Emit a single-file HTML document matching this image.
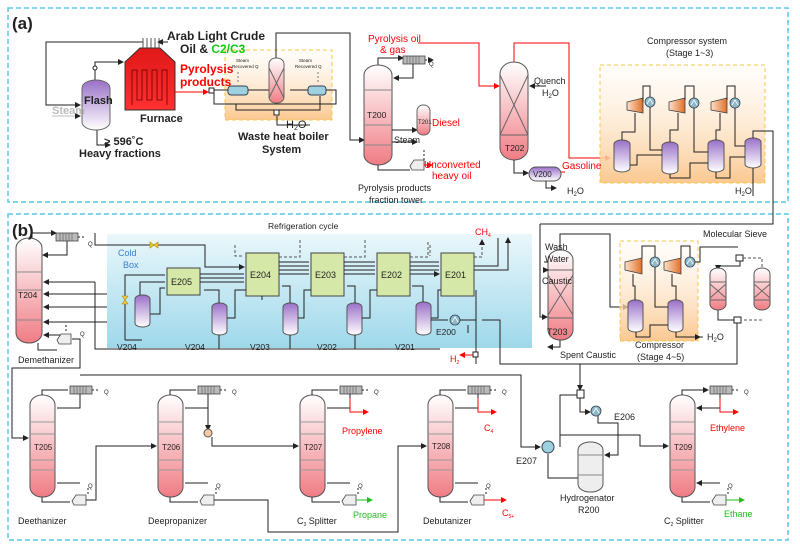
<!DOCTYPE html>
<html><head><meta charset="utf-8"><style>
html,body{margin:0;padding:0;background:#fff}
svg{display:block}
text{font-family:"Liberation Sans",Arial,sans-serif}
</style></head><body>
<svg width="800" height="552" viewBox="0 0 800 552" xmlns="http://www.w3.org/2000/svg">
<defs>
<linearGradient id="pink" x1="0" y1="0" x2="0" y2="1"><stop offset="0" stop-color="#fff"/><stop offset="1" stop-color="#f07c84"/></linearGradient>
<linearGradient id="purp" x1="0" y1="0" x2="0" y2="1"><stop offset="0" stop-color="#9a70c8"/><stop offset="1" stop-color="#fff"/></linearGradient>
<linearGradient id="red" x1="0" y1="0" x2="0" y2="1"><stop offset="0" stop-color="#e01818"/><stop offset="1" stop-color="#ff3030"/></linearGradient>
<linearGradient id="orgbox" x1="0" y1="0" x2="0" y2="1"><stop offset="0" stop-color="#fff8ee" stop-opacity="0.3"/><stop offset="1" stop-color="#fbc890"/></linearGradient>
<linearGradient id="blue" x1="0" y1="0" x2="0" y2="1"><stop offset="0" stop-color="#eaf7fb"/><stop offset="1" stop-color="#9ed8ea"/></linearGradient>
<linearGradient id="comp" x1="0" y1="0" x2="1" y2="0"><stop offset="0" stop-color="#fde0c8"/><stop offset="1" stop-color="#e0702a"/></linearGradient>
<marker id="a" markerWidth="6" markerHeight="6" refX="5" refY="3" orient="auto"><path d="M0,0L6,3L0,6z" fill="#222"/></marker>
<marker id="ar" markerWidth="6" markerHeight="6" refX="5" refY="3" orient="auto"><path d="M0,0L6,3L0,6z" fill="#f00"/></marker>
<marker id="ag" markerWidth="6" markerHeight="6" refX="5" refY="3" orient="auto"><path d="M0,0L6,3L0,6z" fill="#2b2"/></marker>
<g id="cond"><rect x="0" y="0" width="22" height="8" fill="#bbb" stroke="#444" stroke-width="0.8"/><path d="M4,0v8M7,0v8M10,0v8M13,0v8M16,0v8" stroke="#555" stroke-width="0.6"/></g>
<g id="reb"><path d="M0,6 L4,0 H14 V10 H2 Z" fill="#eee" stroke="#444" stroke-width="0.8"/></g>
<g id="mot"><circle r="5" fill="#8fb8c8" stroke="#345" stroke-width="0.8"/><path d="M-3,2 L0,-3 L3,2" stroke="#fff" fill="none" stroke-width="0.8"/></g>
</defs>
<g fill="none" stroke="#222" stroke-width="1">
<rect x="8" y="8" width="780" height="194" stroke="#5cc5ea" stroke-dasharray="5,3" stroke-width="1.5"/>
<rect x="8" y="214" width="780" height="326" stroke="#5cc5ea" stroke-dasharray="5,3" stroke-width="1.5"/>

<!-- ===== (a) ===== -->
<path d="M143,42 H46 V105 H80" marker-end="url(#a)"/>
<path d="M95,80 V62 H123" marker-end="url(#a)"/>
<circle cx="95" cy="68" r="2" fill="#fff"/>
<path d="M97,130 V145 H110" marker-end="url(#a)"/>
<path d="M52,116 H80" stroke="#bbb" marker-end="url(#a)"/>
<rect x="82" y="80" width="28" height="50" rx="14" ry="8" fill="url(#purp)" stroke="#666"/>
<path d="M125,62 L140,48 H160 L175,62 V110 H125 Z" fill="url(#red)" stroke="#333"/>
<path d="M132,105 V70 H137 V100 H142 V70 H147 V100 H152 V70 H157 V100 H162 V70 H167 V105" stroke="#600" stroke-width="0.8"/>
<path d="M143,38 V48 M147,38 V48 M151,38 V48 M155,38 V48 M159,38 V48" stroke="#555"/>
<path d="M168,42 H158" marker-end="url(#a)"/>
<path d="M175,92 H208" stroke="#f00" marker-end="url(#ar)"/>
<rect x="225" y="50" width="107" height="70" fill="url(#orgbox)" stroke="#f5c842" stroke-dasharray="4,3"/>
<rect x="209" y="88" width="5" height="5" fill="#fff"/>
<path d="M214,90 H228 M248,90 H270 M290,90 H308 M318,90 H336 V104 H214 V93" />
<path d="M276,58 V33 H350 V140 H364" marker-end="url(#a)"/>
<path d="M277,116 V125 H310" />
<path d="M236,104 V110 H320 V96" />
<rect x="228" y="86" width="20" height="9" rx="3" fill="#9fd0e0" stroke="#345"/>
<rect x="308" y="86" width="18" height="9" rx="3" fill="#9fd0e0" stroke="#345"/>
<rect x="269" y="58" width="15" height="45" rx="7" ry="6" fill="url(#pink)" stroke="#666"/>
<path d="M269,68 L284,98 M284,68 L269,98" stroke="#666"/>
<rect x="274" y="110" width="5" height="5" fill="#fff"/>
<path d="M238,82 V70 M318,82 V70" stroke-dasharray="2,2" stroke="#777"/>

<path d="M378,65 V58 H403" marker-end="url(#a)"/>
<use href="#cond" x="403" y="56"/>
<path d="M425,60 H433" stroke-dasharray="2,2" marker-end="url(#a)"/>
<path d="M413,64 V78 H394" marker-end="url(#a)"/>
<rect x="364" y="65" width="28" height="100" rx="14" ry="10" fill="url(#pink)" stroke="#555"/>
<path d="M364,90 H392 M364,125 H392 M364,145 H392" stroke="#888"/>
<path d="M392,130 H417" marker-end="url(#a)"/>
<path d="M392,142 H417" marker-end="url(#a)"/>
<rect x="417" y="105" width="13" height="30" rx="6" ry="6" fill="url(#pink)" stroke="#666"/>
<path d="M378,165 V170 H410" />
<use href="#reb" x="410" y="160"/>
<path d="M424,165 H432" marker-end="url(#ar)" stroke="#f00"/>
<path d="M424,160 V150" stroke-dasharray="2,2"/>

<path d="M418,43 H479 V86 H499" stroke="#f00" marker-end="url(#ar)"/>
<path d="M514,62 V43 H569 V158 H610" stroke="#f00" marker-end="url(#ar)"/>
<rect x="500" y="62" width="28" height="98" rx="14" ry="12" fill="url(#pink)" stroke="#555"/>
<path d="M500,75 L528,135 M528,75 L500,135 M500,135 H528" stroke="#666"/>
<path d="M546,86 H530" marker-end="url(#a)"/>
<path d="M514,160 V173 H528" marker-end="url(#a)"/>
<rect x="529" y="167" width="32" height="14" rx="7" fill="url(#purp)" stroke="#555"/>
<path d="M546,181 V188 H556" marker-end="url(#a)"/>
<path d="M561,172 H565" stroke="#f00"/>

<rect x="600" y="65" width="165" height="118" fill="url(#orgbox)" stroke="#f5c842" stroke-dasharray="4,3"/>
<g fill="url(#purp)" stroke="#555">
<rect x="614" y="140" width="16" height="32" rx="8" ry="4"/>
<rect x="662" y="142" width="16" height="32" rx="8" ry="4"/>
<rect x="708" y="140" width="16" height="32" rx="8" ry="4"/>
<rect x="745" y="138" width="16" height="30" rx="8" ry="4"/>
</g>
<g fill="url(#comp)" stroke="#444" stroke-width="0.8">
<path d="M627,102 L643,98 V113 L627,110 Z"/>
<path d="M669,102 L685,98 V113 L669,110 Z"/>
<path d="M711,102 L727,98 V113 L711,110 Z"/>
</g>
<use href="#mot" x="650" y="102"/><use href="#mot" x="694" y="103"/><use href="#mot" x="735" y="103"/>
<path d="M622,140 V132 H635 V113 M643,102 V86 H650 V97 M650,107 V150 H662 M630,165 H637 V155 H662 M670,142 V130 H678 V113 M685,100 V86 H694 V98 M694,108 V152 H708 M670,174 V178 H690 V163 H708 M716,140 V130 H720 V113 M727,100 V86 H735 V98 M735,108 V146 H745 M716,172 V178 H730 V157 H745"/>
<path d="M753,138 V131 H773 V224 H540"/>
<path d="M753,168 V196"/>

<!-- ===== (b) ===== -->
<rect x="107" y="234" width="425" height="114" fill="url(#blue)" stroke="none"/>
<rect x="16" y="238" width="26" height="105" rx="13" ry="10" fill="url(#pink)" stroke="#555"/>
<path d="M16,272 H42 M16,290 H42 M16,320 H42" stroke="#888"/>
<path d="M32,238 V233 H56" marker-end="url(#a)"/>
<use href="#cond" x="56" y="233"/>
<path d="M78,237 H86" stroke-dasharray="2,2"/>
<path d="M67,241 V255 H43" marker-end="url(#a)"/>
<path d="M95,233 V245 H150"/>
<path d="M152,245 H205 V267 H244" marker-end="url(#a)"/>
<path d="M150,242 L158,248 V242 L150,248 Z" fill="#f5c842" stroke="#a80" stroke-width="0.6"/>
<path d="M38,343 V350 H57"/>
<use href="#reb" x="57" y="334"/>
<path d="M72,339 H80 V368 H12 V438 H28" marker-end="url(#a)"/>
<path d="M60,335 H44" marker-end="url(#a)"/>
<path d="M66,325 V333" stroke-dasharray="2,2"/>
<path d="M95,282 H44" marker-end="url(#a)"/><path d="M95,282 V349 H440"/>
<path d="M107,294 H44" marker-end="url(#a)"/>
<path d="M107,307 H44" marker-end="url(#a)"/>
<path d="M107,322 H44" marker-end="url(#a)"/>

<g fill="#d6e8a8" stroke="#444">
<rect x="167" y="268" width="33" height="27"/>
<rect x="246" y="253" width="33" height="43"/>
<rect x="311" y="253" width="33" height="43"/>
<rect x="377" y="253" width="33" height="43"/>
<rect x="441" y="253" width="33" height="43"/>
</g>
<path d="M200,274 H244 M200,278 H244 M200,282 H244 M279,262 H309 M279,266 H309 M279,270 H309 M279,274 H309 M344,262 H375 M344,266 H375 M344,270 H375 M344,274 H375 M410,262 H439 M410,266 H439 M410,270 H439 M410,274 H439" marker-end="url(#a)"/>
<path d="M474,266 H498 V238 M474,270 H508 V238" marker-end="url(#a)"/>
<path d="M279,257 H300 V240 M344,257 H365 V240 M410,257 H428 V240 M474,257 H482 V240" stroke-dasharray="3,2" stroke="#555" marker-end="url(#a)"/>
<path d="M235,245 V256 H244 M300,245 V256 M365,245 V256 M430,245 V256" stroke-dasharray="3,2" stroke="#555"/>
<path d="M125,340 V275 H165 M125,340 H142 M140,297 V282 H165 M150,314 H160 V288 H165"/>
<path d="M122,296 L128,304 H122 L128,296 Z" fill="#f5c842" stroke="#a80" stroke-width="0.6"/>
<g fill="url(#purp)" stroke="#555">
<rect x="135" y="295" width="15" height="32" rx="7" ry="4"/>
<rect x="212" y="303" width="15" height="32" rx="7" ry="4"/>
<rect x="283" y="303" width="15" height="32" rx="7" ry="4"/>
<rect x="347" y="303" width="15" height="32" rx="7" ry="4"/>
<rect x="416" y="302" width="15" height="33" rx="7" ry="4"/>
</g>
<path d="M227,318 H235 V290 H246 M219,303 V290 H204 M219,335 V349 M262,296 V300 M298,318 H304 V290 H311 M290,303 V286 H282 M290,335 V349 M362,318 H370 V290 H377 M355,303 V286 H347 M355,335 V349 M431,318 H438 V290 H441 M423,302 V286 H412 M448,320 H431"/>
<use href="#mot" x="455" y="320"/>
<path d="M460,320 H476 V290 M476,320 V352 M468,325 V333" />
<path d="M482,320 H500 V364 H737 V323" />
<rect x="473" y="352" width="5" height="5" fill="#fff"/>
<path d="M473,355 H460" stroke="#f00" marker-end="url(#ar)"/>
<path d="M476,357 V364"/>

<rect x="548" y="250" width="25" height="90" rx="12" ry="10" fill="url(#pink)" stroke="#555"/>
<path d="M548,270 H573 M548,318 H573 M548,275 L573,315 M573,275 L548,315" stroke="#666"/>
<path d="M560,250 V234 H610 V307 H628" marker-end="url(#a)"/>
<path d="M544,262 H548 M544,270 H548" marker-end="url(#a)"/>
<path d="M540,224 V317 H547" marker-end="url(#a)"/>
<path d="M560,340 V347 H548" marker-end="url(#a)"/>
<rect x="620" y="241" width="78" height="100" fill="url(#orgbox)" stroke="#f5c842" stroke-dasharray="4,3"/>
<g fill="url(#purp)" stroke="#555">
<rect x="628" y="300" width="15" height="32" rx="7" ry="4"/>
<rect x="668" y="300" width="15" height="32" rx="7" ry="4"/>
</g>
<g fill="url(#comp)" stroke="#444" stroke-width="0.8">
<path d="M625,262 L642,258 V274 L625,270 Z"/>
<path d="M664,262 L681,258 V274 L664,270 Z"/>
</g>
<use href="#mot" x="655" y="262"/><use href="#mot" x="690" y="262"/>
<path d="M635,300 V286 H633 V274 M642,258 V246 H655 V257 M655,267 V307 H668 M636,332 V337 H650 V325 H668 M676,300 V286 H672 V274 M681,258 V246 H690 V257 M695,262 H700 V247 H738 M683,337 H703"/>
<path d="M676,332 V337 H700" marker-end="url(#a)"/>
<rect x="736" y="255" width="7" height="6" fill="#fff"/>
<rect x="734" y="317" width="7" height="6" fill="#fff"/>
<path d="M740,261 V266 H718 V270" marker-end="url(#a)"/>
<path d="M743,258 H762 V268" stroke-dasharray="3,2" stroke="#555"/>
<path d="M762,320 H743" stroke-dasharray="3,2" stroke="#555"/>
<path d="M718,310 V320 H734"/>
<g fill="url(#pink)" stroke="#555">
<rect x="710" y="268" width="16" height="42" rx="8" ry="6"/>
<rect x="754" y="268" width="16" height="42" rx="8" ry="6"/>
</g>
<path d="M710,282 H726 M710,300 H726 M710,284 L726,298 M726,284 L710,298 M754,282 H770 M754,300 H770 M754,284 L770,298 M770,284 L754,298" stroke="#666"/>

<!-- bottom row -->
<path d="M80,375 H521 V447 H540" marker-end="url(#a)"/>
<g fill="url(#pink)" stroke="#555">
<rect x="30" y="395" width="25" height="102" rx="12" ry="10"/>
<rect x="158" y="395" width="25" height="102" rx="12" ry="10"/>
<rect x="300" y="395" width="25" height="102" rx="12" ry="10"/>
<rect x="428" y="395" width="25" height="102" rx="12" ry="10"/>
<rect x="670" y="395" width="25" height="102" rx="12" ry="10"/>
</g>
<g stroke="#999">
<path d="M30,422 H55 M30,434 H55 M30,460 H55 M30,470 H55"/>
<path d="M158,422 H183 M158,434 H183 M158,460 H183 M158,470 H183"/>
<path d="M300,422 H325 M300,434 H325 M300,460 H325 M300,470 H325"/>
<path d="M428,422 H453 M428,434 H453 M428,460 H453 M428,470 H453"/>
<path d="M670,422 H695 M670,434 H695 M670,460 H695 M670,470 H695"/>
</g>
<use href="#cond" x="70" y="386"/><use href="#cond" x="198" y="386"/><use href="#cond" x="340" y="386"/><use href="#cond" x="468" y="386"/><use href="#cond" x="710" y="386"/>
<use href="#reb" x="72" y="495"/><use href="#reb" x="200" y="495"/><use href="#reb" x="342" y="495"/><use href="#reb" x="470" y="495"/><use href="#reb" x="712" y="495"/>
<path d="M42,395 V390 H68 M170,395 V390 H196 M312,395 V390 H338 M440,395 V390 H466 M682,395 V390 H708" marker-end="url(#a)"/>
<path d="M80,394 V408 H57 M208,394 V408 H185 M350,394 V408 H327 M478,394 V408 H455 M720,394 V408 H697" marker-end="url(#a)"/>
<path d="M80,483 H57 M208,483 H185 M350,483 H327 M478,483 H455 M720,483 H697" marker-end="url(#a)"/>
<path d="M42,497 V502 H70 M170,497 V502 H198 M312,497 V502 H340 M440,497 V502 H468 M682,497 V502 H710"/>
<path d="M86,500 H96 V446 H156" marker-end="url(#a)"/>
<path d="M208,394 V430" marker-end="url(#a)"/>
<circle cx="208" cy="433" r="4" fill="#f6c9a0" stroke="#555"/>
<path d="M212,437 V446 H298" marker-end="url(#a)"/>
<path d="M214,500 H268 V532 H398 V446 H426" marker-end="url(#a)"/>
<path d="M356,500 H372" stroke="#2b2" marker-end="url(#ag)"/>
<path d="M350,398 V412 H368" stroke="#f00" marker-end="url(#ar)"/>
<path d="M478,398 V412 H496" stroke="#f00" marker-end="url(#ar)"/>
<path d="M484,500 H506" stroke="#f00" marker-end="url(#ar)"/>
<path d="M720,398 V412 H738" stroke="#f00" marker-end="url(#ar)"/>
<path d="M726,500 H744" stroke="#2b2" marker-end="url(#ag)"/>
<path d="M92,390 H100 M220,390 H228 M362,390 H370 M490,390 H498 M732,390 H740" stroke-dasharray="2,2"/>
<path d="M88,488 V496 M216,488 V496 M358,488 V496 M486,488 V496 M728,488 V496" stroke-dasharray="2,2"/>
<path d="M580,364 V390" marker-end="url(#a)"/>
<rect x="577" y="390" width="7" height="8" fill="#fff"/>
<path d="M580,398 V412 H590" marker-end="url(#a)"/>
<use href="#mot" x="596" y="411"/>
<path d="M560,447 V395 H577 M598,416 V423 H618 V455 H605" marker-end="url(#a)"/>
<path d="M560,435 H640 V446 H668" marker-end="url(#a)"/>
<path d="M548,454 V478 H578"/>
<circle cx="548" cy="447" r="6" fill="#9fd0e0" stroke="#345"/>
<rect x="578" y="442" width="25" height="50" rx="12" ry="8" fill="#eee" stroke="#555"/>
<path d="M578,455 H603 M578,475 H603" stroke="#888"/>
</g>

<!-- ===== texts ===== -->
<g font-size="10" fill="#222">
<text x="12" y="29" font-size="17" font-weight="bold">(a)</text>
<text x="12" y="236" font-size="17" font-weight="bold">(b)</text>
<text x="167" y="40" font-size="12" font-weight="bold">Arab Light Crude</text>
<text x="180" y="53" font-size="12" font-weight="bold">Oil &amp; <tspan fill="#1c1">C2/C3</tspan></text>
<text x="180" y="73" font-size="12" font-weight="bold" fill="#f00">Pyrolysis</text>
<text x="180" y="86" font-size="12" font-weight="bold" fill="#f00">products</text>
<text x="84" y="104" font-size="11" font-weight="bold">Flash</text>
<text x="52" y="114" font-size="11" font-weight="bold" fill="#bbb">Steam</text>
<text x="140" y="122" font-size="11" font-weight="bold">Furnace</text>
<text x="104" y="145" font-size="11" font-weight="bold">&gt; 596˚C</text>
<text x="79" y="157" font-size="11" font-weight="bold">Heavy fractions</text>
<text x="236" y="62" font-size="4.5">Steam</text><text x="232" y="68" font-size="4.5">Recovered Q</text>
<text x="299" y="62" font-size="4.5">Steam</text><text x="295" y="68" font-size="4.5">Recovered Q</text>
<text x="286" y="128" font-size="11">H<tspan font-size="7" dy="2">2</tspan><tspan dy="-2">O</tspan></text>
<text x="238" y="140" font-size="11" font-weight="bold">Waste heat boiler</text>
<text x="262" y="153" font-size="11" font-weight="bold">System</text>
<text x="368" y="42" font-size="10" fill="#f00">Pyrolysis oil</text>
<text x="380" y="53" font-size="10" fill="#f00">&amp; gas</text>
<text x="429" y="66" font-size="6">Q</text>
<text x="367" y="118" font-size="8.5">T200</text>
<text x="418" y="124" font-size="6">T201</text>
<text x="432" y="126" font-size="10" fill="#f00">Diesel</text>
<text x="394" y="143" font-size="9">Steam</text>
<text x="424" y="168" font-size="10" fill="#f00">Unconverted</text>
<text x="432" y="179" font-size="10" fill="#f00">heavy oil</text>
<text x="358" y="191" font-size="9">Pyrolysis products</text>
<text x="369" y="203" font-size="9">fraction tower</text>
<text x="534" y="84" font-size="9">Quench</text>
<text x="542" y="96" font-size="9">H<tspan font-size="6" dy="2">2</tspan><tspan dy="-2">O</tspan></text>
<text x="505" y="151" font-size="8.5">T202</text>
<text x="533" y="177" font-size="8" font-family="Liberation Serif">V200</text>
<text x="562" y="169" font-size="10" fill="#f00">Gasoline</text>
<text x="567" y="194" font-size="9">H<tspan font-size="6" dy="2">2</tspan><tspan dy="-2">O</tspan></text>
<text x="647" y="44" font-size="9">Compressor system</text>
<text x="666" y="56" font-size="9">(Stage 1~3)</text>
<text x="735" y="194" font-size="9">H<tspan font-size="6" dy="2">2</tspan><tspan dy="-2">O</tspan></text>

<text x="268" y="229" font-size="8.5">Refrigeration cycle</text>
<text x="118" y="256" font-size="9" fill="#3a7fd0">Cold</text>
<text x="123" y="268" font-size="9" fill="#3a7fd0">Box</text>
<text x="475" y="235" font-size="9" fill="#f00">CH<tspan font-size="5" dy="2">4</tspan></text>
<text x="171" y="285" font-size="9">E205</text>
<text x="250" y="278" font-size="9">E204</text>
<text x="315" y="278" font-size="9">E203</text>
<text x="381" y="278" font-size="9">E202</text>
<text x="445" y="278" font-size="9">E201</text>
<text x="18" y="298" font-size="8.5">T204</text>
<text x="80" y="336" font-size="6">Q</text>
<text x="88" y="246" font-size="6">Q</text>
<text x="18" y="363" font-size="9">Demethanizer</text>
<text x="117" y="350" font-size="8.5">V204</text>
<text x="185" y="350" font-size="8.5">V204</text>
<text x="250" y="350" font-size="8.5">V203</text>
<text x="317" y="350" font-size="8.5">V202</text>
<text x="395" y="350" font-size="8.5">V201</text>
<text x="436" y="335" font-size="8.5">E200</text>
<text x="450" y="362" font-size="9" fill="#f00">H<tspan font-size="5" dy="2">2</tspan></text>
<text x="545" y="250" font-size="9">Wash</text>
<text x="545" y="262" font-size="9">Water</text>
<text x="542" y="284" font-size="9">Caustic</text>
<text x="547" y="335" font-size="9">T203</text>
<text x="560" y="358" font-size="9">Spent Caustic</text>
<text x="635" y="348" font-size="9">Compressor</text>
<text x="637" y="360" font-size="9">(Stage 4~5)</text>
<text x="707" y="340" font-size="9">H<tspan font-size="6" dy="2">2</tspan><tspan dy="-2">O</tspan></text>
<text x="703" y="237" font-size="9">Molecular Sieve</text>

<text x="34" y="450" font-size="8">T205</text>
<text x="162" y="450" font-size="8">T206</text>
<text x="304" y="450" font-size="8">T207</text>
<text x="432" y="449" font-size="8">T208</text>
<text x="674" y="450" font-size="8">T209</text>
<text x="18" y="524" font-size="9">Deethanizer</text>
<text x="148" y="524" font-size="9">Deepropanizer</text>
<text x="297" y="524" font-size="9">C<tspan font-size="5" dy="2">3</tspan><tspan dy="-2"> Splitter</tspan></text>
<text x="423" y="524" font-size="9">Debutanizer</text>
<text x="664" y="524" font-size="9">C<tspan font-size="5" dy="2">2</tspan><tspan dy="-2"> Splitter</tspan></text>
<text x="342" y="434" font-size="9" fill="#f00">Propylene</text>
<text x="353" y="518" font-size="9" fill="#2b2">Propane</text>
<text x="484" y="431" font-size="9" fill="#f00">C<tspan font-size="5" dy="2">4</tspan></text>
<text x="502" y="516" font-size="9" fill="#f00">C<tspan font-size="5" dy="2">5+</tspan></text>
<text x="710" y="431" font-size="9" fill="#f00">Ethylene</text>
<text x="724" y="517" font-size="9" fill="#2b2">Ethane</text>
<text x="516" y="464" font-size="9">E207</text>
<text x="614" y="420" font-size="9">E206</text>
<text x="560" y="501" font-size="9">Hydrogenator</text>
<text x="578" y="513" font-size="9">R200</text>
<g font-size="6"><text x="104" y="394">Q</text><text x="232" y="394">Q</text><text x="374" y="394">Q</text><text x="502" y="394">Q</text><text x="744" y="394">Q</text>
<text x="88" y="488">Q</text><text x="216" y="488">Q</text><text x="358" y="488">Q</text><text x="486" y="488">Q</text><text x="728" y="488">Q</text></g>
</g>
</svg>
</body></html>
